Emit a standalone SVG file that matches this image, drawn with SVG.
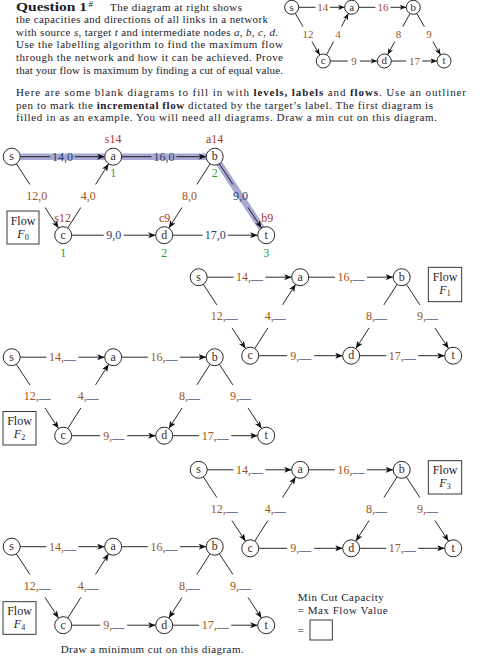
<svg xmlns="http://www.w3.org/2000/svg" width="500" height="663" viewBox="0 0 500 663">
<defs>
<marker id="ar" viewBox="0 0 10 8" refX="10" refY="4" markerWidth="7.5" markerHeight="6" orient="auto" markerUnits="userSpaceOnUse"><path d="M0,0 L10,4 L0,8 L2.5,4 z" fill="#111"/></marker>
<marker id="ars" viewBox="0 0 10 8" refX="10" refY="4" markerWidth="6.5" markerHeight="5.2" orient="auto" markerUnits="userSpaceOnUse"><path d="M0,0 L10,4 L0,8 L2.5,4 z" fill="#111"/></marker>
</defs>
<style>
text{font-family:"Liberation Serif","Times New Roman",serif;}
.body{font-size:11px;fill:#1c1c2c;}
.b{font-weight:bold;}
.i{font-style:italic;}
.e line{stroke:#111;stroke-width:0.9;}
.n circle{fill:#fff;stroke:#111;stroke-width:0.9;}
.n text{font-size:12px;fill:#3d2b1a;text-anchor:middle;}
.sm circle{fill:#fff;stroke:#111;stroke-width:0.9;}
.sm text{font-size:11px;fill:#3d2b1a;text-anchor:middle;}
.lab{font-size:12px;text-anchor:middle;}
.slab{font-size:11px;text-anchor:middle;fill:#9a5522;}
.cap{fill:#9a5522;}
.fl{fill:#2c3e6e;}
.n text.red{font-size:12px;fill:#a33a2a;}
.n text.grn{font-size:12px;fill:#22a022;}
.hl line{stroke:#9393c8;stroke-width:6.5;opacity:0.8;}
.box rect{fill:none;stroke:#222;stroke-width:0.9;}
.box text{font-size:12px;fill:#1c1c2c;text-anchor:middle;}
</style>
<rect width="500" height="663" fill="#fff"/>

<!-- Question text -->
<g id="question-text">
<text x="16" y="11" font-size="13.5" font-weight="bold" fill="#1c1c2c" textLength="71" lengthAdjust="spacingAndGlyphs">Question 1</text>
<text x="88.5" y="6.5" font-size="9" fill="#1c1c2c">#</text>
<text class="body" x="110" y="10.5" textLength="132" lengthAdjust="spacing">The diagram at right shows</text>
<text class="body" x="16" y="23.2" textLength="252" lengthAdjust="spacing">the capacities and directions of all links in a network</text>
<text class="body" x="16" y="35.8" textLength="262" lengthAdjust="spacing">with source <tspan class="i">s</tspan>, target <tspan class="i">t</tspan> and intermediate nodes <tspan class="i">a</tspan>, <tspan class="i">b</tspan>, <tspan class="i">c</tspan>, <tspan class="i">d</tspan>.</text>
<text class="body" x="16" y="48.4" textLength="267" lengthAdjust="spacing">Use the labelling algorithm to find the maximum flow</text>
<text class="body" x="16" y="61" textLength="267" lengthAdjust="spacing">through the network and how it can be achieved. Prove</text>
<text class="body" x="16" y="73.6" textLength="267" lengthAdjust="spacing">that your flow is maximum by finding a cut of equal value.</text>
<text class="body" x="16" y="96.2" textLength="450" lengthAdjust="spacing">Here are some blank diagrams to fill in with <tspan class="b">levels, labels</tspan> and <tspan class="b">flows</tspan>. Use an outliner</text>
<text class="body" x="16" y="108.6" textLength="417" lengthAdjust="spacing">pen to mark the <tspan class="b">incremental flow</tspan> dictated by the target’s label. The first diagram is</text>
<text class="body" x="16" y="121" textLength="421" lengthAdjust="spacing">filled in as an example. You will need all diagrams. Draw a min cut on this diagram.</text>
</g>

<!-- Small network diagram -->
<g id="network">
<g id="network-edges" class="e">
<line x1="298.7" y1="7.3" x2="315.5" y2="7.3"/><line x1="330" y1="7.3" x2="344.7" y2="7.3" marker-end="url(#ars)"/>
<line x1="358.7" y1="7.3" x2="375.5" y2="7.3"/><line x1="390.5" y1="7.3" x2="406.3" y2="7.3" marker-end="url(#ars)"/>
<line x1="295.25" y1="13.33" x2="303.09" y2="26.65"/><line x1="311.9" y1="41.65" x2="319.75" y2="54.97" marker-end="url(#ars)"/>
<line x1="326.57" y1="54.81" x2="333.53" y2="41.65"/><line x1="341.47" y1="26.65" x2="348.43" y2="13.49" marker-end="url(#ars)"/>
<line x1="409.97" y1="13.46" x2="402.85" y2="26.65"/><line x1="394.75" y1="41.65" x2="387.63" y2="54.84" marker-end="url(#ars)"/>
<line x1="416.77" y1="13.38" x2="424.36" y2="26.65"/><line x1="432.94" y1="41.65" x2="440.53" y2="54.92" marker-end="url(#ars)"/>
<line x1="330.3" y1="61" x2="347.8" y2="61"/><line x1="359.8" y1="61" x2="377.3" y2="61" marker-end="url(#ars)"/>
<line x1="391.3" y1="61" x2="406.2" y2="61"/><line x1="422.2" y1="61" x2="437" y2="61" marker-end="url(#ars)"/>
<text class="slab" x="322.7" y="11">14</text>
<text class="slab" x="383" y="11">16</text>
<text class="slab" x="308" y="37.5">12</text>
<text class="slab" x="338" y="37.5">4</text>
<text class="slab" x="398.5" y="37.5">8</text>
<text class="slab" x="429" y="37.5">9</text>
<text class="slab" x="354" y="64.8">9</text>
<text class="slab" x="414.5" y="64.8">17</text>
</g>
<g id="network-s" class="sm"><circle cx="291.7" cy="7.3" r="7"/><text x="291.7" y="10.5">s</text></g>
<g id="network-a" class="sm"><circle cx="351.7" cy="7.3" r="7"/><text x="351.7" y="10.5">a</text></g>
<g id="network-b" class="sm"><circle cx="413.3" cy="7.3" r="7"/><text x="413.3" y="10.5">b</text></g>
<g id="network-c" class="sm"><circle cx="323.3" cy="61" r="7"/><text x="323.3" y="64.2">c</text></g>
<g id="network-d" class="sm"><circle cx="384.3" cy="61" r="7"/><text x="384.3" y="64.2">d</text></g>
<g id="network-t" class="sm"><circle cx="444" cy="61" r="7"/><text x="444" y="64.2">t</text></g>
</g>

<!-- F0 filled example -->
<g id="F0" transform="translate(11.7,156.7)">
<g id="F0-highlight" class="hl">
<line x1="8.5" y1="0" x2="93" y2="0"/>
<line x1="110" y1="0" x2="194.5" y2="0"/>
<line x1="207.66" y1="7.11" x2="249.84" y2="71.39"/>
</g>
<g id="F0-edges" class="e">
<line x1="8.5" y1="0" x2="38.25" y2="0"/><line x1="63.25" y1="0" x2="93" y2="0" marker-end="url(#ar)"/>
<line x1="110" y1="0" x2="139.75" y2="0"/><line x1="164.75" y1="0" x2="194.5" y2="0" marker-end="url(#ar)"/>
<line x1="4.66" y1="7.11" x2="18.2" y2="27.75"/><line x1="33.3" y1="50.75" x2="46.84" y2="71.39" marker-end="url(#ar)"/>
<line x1="56.07" y1="71.33" x2="69.17" y2="50.75"/><line x1="83.82" y1="27.75" x2="96.93" y2="7.17" marker-end="url(#ar)"/>
<line x1="198.4" y1="7.15" x2="185.15" y2="27.75"/><line x1="170.35" y1="50.75" x2="157.1" y2="71.35" marker-end="url(#ar)"/>
<line x1="207.66" y1="7.11" x2="221.2" y2="27.75"/><line x1="236.3" y1="50.75" x2="249.84" y2="71.39" marker-end="url(#ar)"/>
<line x1="60" y1="78.5" x2="92" y2="78.5"/><line x1="112" y1="78.5" x2="144" y2="78.5" marker-end="url(#ar)"/>
<line x1="161" y1="78.5" x2="191" y2="78.5"/><line x1="216" y1="78.5" x2="246" y2="78.5" marker-end="url(#ar)"/>
<text class="lab" x="50.75" y="4"><tspan class="fl">14,0</tspan></text>
<text class="lab" x="152.25" y="4"><tspan class="fl">16,0</tspan></text>
<text class="lab" x="25" y="43"><tspan class="cap">12,0</tspan></text>
<text class="lab" x="76.5" y="43"><tspan class="cap">4,0</tspan></text>
<text class="lab" x="177.75" y="43"><tspan class="cap">8,0</tspan></text>
<text class="lab" x="228.75" y="43"><tspan class="fl">9,0</tspan></text>
<text class="lab" x="102" y="82.5"><tspan class="fl">9,0</tspan></text>
<text class="lab" x="203.5" y="82.5"><tspan class="fl">17,0</tspan></text>
</g>
<g id="F0-s" class="n"><circle cx="0" cy="0" r="8.5"/><text x="0" y="3.5">s</text></g>
<g id="F0-a" class="n"><circle cx="101.5" cy="0" r="8.5"/><text x="101.5" y="3.5">a</text><text class="red" x="101.5" y="-13.4">s14</text><text class="grn" x="101.5" y="20.6">1</text></g>
<g id="F0-b" class="n"><circle cx="203" cy="0" r="8.5"/><text x="203" y="3.5">b</text><text class="red" x="203" y="-13.4">a14</text><text class="grn" x="203" y="20.6">2</text></g>
<g id="F0-c" class="n"><circle cx="51.5" cy="78.5" r="8.5"/><text x="51.5" y="82">c</text><text class="red" x="51" y="65.3">s12</text><text class="grn" x="51.5" y="100.3">1</text></g>
<g id="F0-d" class="n"><circle cx="152.5" cy="78.5" r="8.5"/><text x="152.5" y="82">d</text><text class="red" x="153" y="65.3">c9</text><text class="grn" x="152.5" y="100.3">2</text></g>
<g id="F0-t" class="n"><circle cx="254.5" cy="78.5" r="8.5"/><text x="254.5" y="82">t</text><text class="red" x="255.5" y="65.3">b9</text><text class="grn" x="254.5" y="100.3">3</text></g>
</g>
<g id="F0-box" class="box"><rect x="7" y="211" width="32" height="33"/><text x="23" y="224.5">Flow</text><text x="23" y="237.5"><tspan class="i">F</tspan><tspan font-size="8" dy="2">0</tspan></text></g>

<!-- F1 -->
<g id="F1" transform="translate(198.7,277.2)">
<g id="F1-edges" class="e">
<line x1="8.5" y1="0" x2="34.75" y2="0"/><line x1="66.75" y1="0" x2="93" y2="0" marker-end="url(#ar)"/>
<line x1="110" y1="0" x2="136.25" y2="0"/><line x1="168.25" y1="0" x2="194.5" y2="0" marker-end="url(#ar)"/>
<line x1="4.66" y1="7.11" x2="18.2" y2="27.75"/><line x1="33.3" y1="50.75" x2="46.84" y2="71.39" marker-end="url(#ar)"/>
<line x1="56.07" y1="71.33" x2="69.17" y2="50.75"/><line x1="83.82" y1="27.75" x2="96.93" y2="7.17" marker-end="url(#ar)"/>
<line x1="198.4" y1="7.15" x2="185.15" y2="27.75"/><line x1="170.35" y1="50.75" x2="157.1" y2="71.35" marker-end="url(#ar)"/>
<line x1="207.66" y1="7.11" x2="221.2" y2="27.75"/><line x1="236.3" y1="50.75" x2="249.84" y2="71.39" marker-end="url(#ar)"/>
<line x1="60" y1="78.5" x2="88.5" y2="78.5"/><line x1="115.5" y1="78.5" x2="144" y2="78.5" marker-end="url(#ar)"/>
<line x1="161" y1="78.5" x2="187.5" y2="78.5"/><line x1="219.5" y1="78.5" x2="246" y2="78.5" marker-end="url(#ar)"/>
<text class="lab" x="50.75" y="4"><tspan class="cap">14,</tspan><tspan class="fl" dy="-2">__</tspan></text>
<text class="lab" x="152.25" y="4"><tspan class="cap">16,</tspan><tspan class="fl" dy="-2">__</tspan></text>
<text class="lab" x="25.5" y="43"><tspan class="cap">12,</tspan><tspan class="fl" dy="-2">__</tspan></text>
<text class="lab" x="76.5" y="43"><tspan class="cap">4,</tspan><tspan class="fl" dy="-2">__</tspan></text>
<text class="lab" x="177.75" y="43"><tspan class="cap">8,</tspan><tspan class="fl" dy="-2">__</tspan></text>
<text class="lab" x="228.75" y="43"><tspan class="cap">9,</tspan><tspan class="fl" dy="-2">__</tspan></text>
<text class="lab" x="102" y="82.5"><tspan class="cap">9,</tspan><tspan class="fl" dy="-2">__</tspan></text>
<text class="lab" x="203.5" y="82.5"><tspan class="cap">17,</tspan><tspan class="fl" dy="-2">__</tspan></text>
</g>
<g id="F1-s" class="n"><circle cx="0" cy="0" r="8.5"/><text x="0" y="3.5">s</text></g>
<g id="F1-a" class="n"><circle cx="101.5" cy="0" r="8.5"/><text x="101.5" y="3.5">a</text></g>
<g id="F1-b" class="n"><circle cx="203" cy="0" r="8.5"/><text x="203" y="3.5">b</text></g>
<g id="F1-c" class="n"><circle cx="51.5" cy="78.5" r="8.5"/><text x="51.5" y="82">c</text></g>
<g id="F1-d" class="n"><circle cx="152.5" cy="78.5" r="8.5"/><text x="152.5" y="82">d</text></g>
<g id="F1-t" class="n"><circle cx="254.5" cy="78.5" r="8.5"/><text x="254.5" y="82">t</text></g>
</g>
<g id="F1-box" class="box"><rect x="428.3" y="267.3" width="33.4" height="34.4"/><text x="445" y="281">Flow</text><text x="445" y="294"><tspan class="i">F</tspan><tspan font-size="8" dy="2">1</tspan></text></g>

<!-- F2 -->
<g id="F2" transform="translate(11.7,357.2)">
<g id="F2-edges" class="e">
<line x1="8.5" y1="0" x2="34.75" y2="0"/><line x1="66.75" y1="0" x2="93" y2="0" marker-end="url(#ar)"/>
<line x1="110" y1="0" x2="136.25" y2="0"/><line x1="168.25" y1="0" x2="194.5" y2="0" marker-end="url(#ar)"/>
<line x1="4.66" y1="7.11" x2="18.2" y2="27.75"/><line x1="33.3" y1="50.75" x2="46.84" y2="71.39" marker-end="url(#ar)"/>
<line x1="56.07" y1="71.33" x2="69.17" y2="50.75"/><line x1="83.82" y1="27.75" x2="96.93" y2="7.17" marker-end="url(#ar)"/>
<line x1="198.4" y1="7.15" x2="185.15" y2="27.75"/><line x1="170.35" y1="50.75" x2="157.1" y2="71.35" marker-end="url(#ar)"/>
<line x1="207.66" y1="7.11" x2="221.2" y2="27.75"/><line x1="236.3" y1="50.75" x2="249.84" y2="71.39" marker-end="url(#ar)"/>
<line x1="60" y1="78.5" x2="88.5" y2="78.5"/><line x1="115.5" y1="78.5" x2="144" y2="78.5" marker-end="url(#ar)"/>
<line x1="161" y1="78.5" x2="187.5" y2="78.5"/><line x1="219.5" y1="78.5" x2="246" y2="78.5" marker-end="url(#ar)"/>
<text class="lab" x="50.75" y="4"><tspan class="cap">14,</tspan><tspan class="fl" dy="-2">__</tspan></text>
<text class="lab" x="152.25" y="4"><tspan class="cap">16,</tspan><tspan class="fl" dy="-2">__</tspan></text>
<text class="lab" x="25.5" y="43"><tspan class="cap">12,</tspan><tspan class="fl" dy="-2">__</tspan></text>
<text class="lab" x="76.5" y="43"><tspan class="cap">4,</tspan><tspan class="fl" dy="-2">__</tspan></text>
<text class="lab" x="177.75" y="43"><tspan class="cap">8,</tspan><tspan class="fl" dy="-2">__</tspan></text>
<text class="lab" x="228.75" y="43"><tspan class="cap">9,</tspan><tspan class="fl" dy="-2">__</tspan></text>
<text class="lab" x="102" y="82.5"><tspan class="cap">9,</tspan><tspan class="fl" dy="-2">__</tspan></text>
<text class="lab" x="203.5" y="82.5"><tspan class="cap">17,</tspan><tspan class="fl" dy="-2">__</tspan></text>
</g>
<g id="F2-s" class="n"><circle cx="0" cy="0" r="8.5"/><text x="0" y="3.5">s</text></g>
<g id="F2-a" class="n"><circle cx="101.5" cy="0" r="8.5"/><text x="101.5" y="3.5">a</text></g>
<g id="F2-b" class="n"><circle cx="203" cy="0" r="8.5"/><text x="203" y="3.5">b</text></g>
<g id="F2-c" class="n"><circle cx="51.5" cy="78.5" r="8.5"/><text x="51.5" y="82">c</text></g>
<g id="F2-d" class="n"><circle cx="152.5" cy="78.5" r="8.5"/><text x="152.5" y="82">d</text></g>
<g id="F2-t" class="n"><circle cx="254.5" cy="78.5" r="8.5"/><text x="254.5" y="82">t</text></g>
</g>
<g id="F2-box" class="box"><rect x="3" y="411.5" width="33" height="33.5"/><text x="19.5" y="425">Flow</text><text x="19.5" y="438"><tspan class="i">F</tspan><tspan font-size="8" dy="2">2</tspan></text></g>

<!-- F3 -->
<g id="F3" transform="translate(198.7,469.8)">
<g id="F3-edges" class="e">
<line x1="8.5" y1="0" x2="34.75" y2="0"/><line x1="66.75" y1="0" x2="93" y2="0" marker-end="url(#ar)"/>
<line x1="110" y1="0" x2="136.25" y2="0"/><line x1="168.25" y1="0" x2="194.5" y2="0" marker-end="url(#ar)"/>
<line x1="4.66" y1="7.11" x2="18.2" y2="27.75"/><line x1="33.3" y1="50.75" x2="46.84" y2="71.39" marker-end="url(#ar)"/>
<line x1="56.07" y1="71.33" x2="69.17" y2="50.75"/><line x1="83.82" y1="27.75" x2="96.93" y2="7.17" marker-end="url(#ar)"/>
<line x1="198.4" y1="7.15" x2="185.15" y2="27.75"/><line x1="170.35" y1="50.75" x2="157.1" y2="71.35" marker-end="url(#ar)"/>
<line x1="207.66" y1="7.11" x2="221.2" y2="27.75"/><line x1="236.3" y1="50.75" x2="249.84" y2="71.39" marker-end="url(#ar)"/>
<line x1="60" y1="78.5" x2="88.5" y2="78.5"/><line x1="115.5" y1="78.5" x2="144" y2="78.5" marker-end="url(#ar)"/>
<line x1="161" y1="78.5" x2="187.5" y2="78.5"/><line x1="219.5" y1="78.5" x2="246" y2="78.5" marker-end="url(#ar)"/>
<text class="lab" x="50.75" y="4"><tspan class="cap">14,</tspan><tspan class="fl" dy="-2">__</tspan></text>
<text class="lab" x="152.25" y="4"><tspan class="cap">16,</tspan><tspan class="fl" dy="-2">__</tspan></text>
<text class="lab" x="25.5" y="43"><tspan class="cap">12,</tspan><tspan class="fl" dy="-2">__</tspan></text>
<text class="lab" x="76.5" y="43"><tspan class="cap">4,</tspan><tspan class="fl" dy="-2">__</tspan></text>
<text class="lab" x="177.75" y="43"><tspan class="cap">8,</tspan><tspan class="fl" dy="-2">__</tspan></text>
<text class="lab" x="228.75" y="43"><tspan class="cap">9,</tspan><tspan class="fl" dy="-2">__</tspan></text>
<text class="lab" x="102" y="82.5"><tspan class="cap">9,</tspan><tspan class="fl" dy="-2">__</tspan></text>
<text class="lab" x="203.5" y="82.5"><tspan class="cap">17,</tspan><tspan class="fl" dy="-2">__</tspan></text>
</g>
<g id="F3-s" class="n"><circle cx="0" cy="0" r="8.5"/><text x="0" y="3.5">s</text></g>
<g id="F3-a" class="n"><circle cx="101.5" cy="0" r="8.5"/><text x="101.5" y="3.5">a</text></g>
<g id="F3-b" class="n"><circle cx="203" cy="0" r="8.5"/><text x="203" y="3.5">b</text></g>
<g id="F3-c" class="n"><circle cx="51.5" cy="78.5" r="8.5"/><text x="51.5" y="82">c</text></g>
<g id="F3-d" class="n"><circle cx="152.5" cy="78.5" r="8.5"/><text x="152.5" y="82">d</text></g>
<g id="F3-t" class="n"><circle cx="254.5" cy="78.5" r="8.5"/><text x="254.5" y="82">t</text></g>
</g>
<g id="F3-box" class="box"><rect x="428.3" y="460.7" width="33.4" height="33.3"/><text x="445" y="474">Flow</text><text x="445" y="487"><tspan class="i">F</tspan><tspan font-size="8" dy="2">3</tspan></text></g>

<!-- F4 -->
<g id="F4" transform="translate(11.7,546.7)">
<g id="F4-edges" class="e">
<line x1="8.5" y1="0" x2="34.75" y2="0"/><line x1="66.75" y1="0" x2="93" y2="0" marker-end="url(#ar)"/>
<line x1="110" y1="0" x2="136.25" y2="0"/><line x1="168.25" y1="0" x2="194.5" y2="0" marker-end="url(#ar)"/>
<line x1="4.66" y1="7.11" x2="18.2" y2="27.75"/><line x1="33.3" y1="50.75" x2="46.84" y2="71.39" marker-end="url(#ar)"/>
<line x1="56.07" y1="71.33" x2="69.17" y2="50.75"/><line x1="83.82" y1="27.75" x2="96.93" y2="7.17" marker-end="url(#ar)"/>
<line x1="198.4" y1="7.15" x2="185.15" y2="27.75"/><line x1="170.35" y1="50.75" x2="157.1" y2="71.35" marker-end="url(#ar)"/>
<line x1="207.66" y1="7.11" x2="221.2" y2="27.75"/><line x1="236.3" y1="50.75" x2="249.84" y2="71.39" marker-end="url(#ar)"/>
<line x1="60" y1="78.5" x2="88.5" y2="78.5"/><line x1="115.5" y1="78.5" x2="144" y2="78.5" marker-end="url(#ar)"/>
<line x1="161" y1="78.5" x2="187.5" y2="78.5"/><line x1="219.5" y1="78.5" x2="246" y2="78.5" marker-end="url(#ar)"/>
<text class="lab" x="50.75" y="4"><tspan class="cap">14,</tspan><tspan class="fl" dy="-2">__</tspan></text>
<text class="lab" x="152.25" y="4"><tspan class="cap">16,</tspan><tspan class="fl" dy="-2">__</tspan></text>
<text class="lab" x="25.5" y="43"><tspan class="cap">12,</tspan><tspan class="fl" dy="-2">__</tspan></text>
<text class="lab" x="76.5" y="43"><tspan class="cap">4,</tspan><tspan class="fl" dy="-2">__</tspan></text>
<text class="lab" x="177.75" y="43"><tspan class="cap">8,</tspan><tspan class="fl" dy="-2">__</tspan></text>
<text class="lab" x="228.75" y="43"><tspan class="cap">9,</tspan><tspan class="fl" dy="-2">__</tspan></text>
<text class="lab" x="102" y="82.5"><tspan class="cap">9,</tspan><tspan class="fl" dy="-2">__</tspan></text>
<text class="lab" x="203.5" y="82.5"><tspan class="cap">17,</tspan><tspan class="fl" dy="-2">__</tspan></text>
</g>
<g id="F4-s" class="n"><circle cx="0" cy="0" r="8.5"/><text x="0" y="3.5">s</text></g>
<g id="F4-a" class="n"><circle cx="101.5" cy="0" r="8.5"/><text x="101.5" y="3.5">a</text></g>
<g id="F4-b" class="n"><circle cx="203" cy="0" r="8.5"/><text x="203" y="3.5">b</text></g>
<g id="F4-c" class="n"><circle cx="51.5" cy="78.5" r="8.5"/><text x="51.5" y="82">c</text></g>
<g id="F4-d" class="n"><circle cx="152.5" cy="78.5" r="8.5"/><text x="152.5" y="82">d</text></g>
<g id="F4-t" class="n"><circle cx="254.5" cy="78.5" r="8.5"/><text x="254.5" y="82">t</text></g>
</g>
<g id="F4-box" class="box"><rect x="3" y="601.7" width="33" height="32.6"/><text x="19.5" y="615">Flow</text><text x="19.5" y="628"><tspan class="i">F</tspan><tspan font-size="8" dy="2">4</tspan></text></g>

<!-- Min cut -->
<g id="min-cut">
<text class="body" x="297.7" y="601.2" textLength="86" lengthAdjust="spacing">Min Cut Capacity</text>
<text class="body" x="297.7" y="614.2" textLength="90" lengthAdjust="spacing">= Max Flow Value</text>
<text class="body" x="297.7" y="634">=</text>
<rect x="310" y="620" width="22.3" height="20" fill="none" stroke="#222" stroke-width="0.9"/>
<text class="body" x="60.7" y="652.5" textLength="183" lengthAdjust="spacing">Draw a minimum cut on this diagram.</text>
</g>
</svg>
